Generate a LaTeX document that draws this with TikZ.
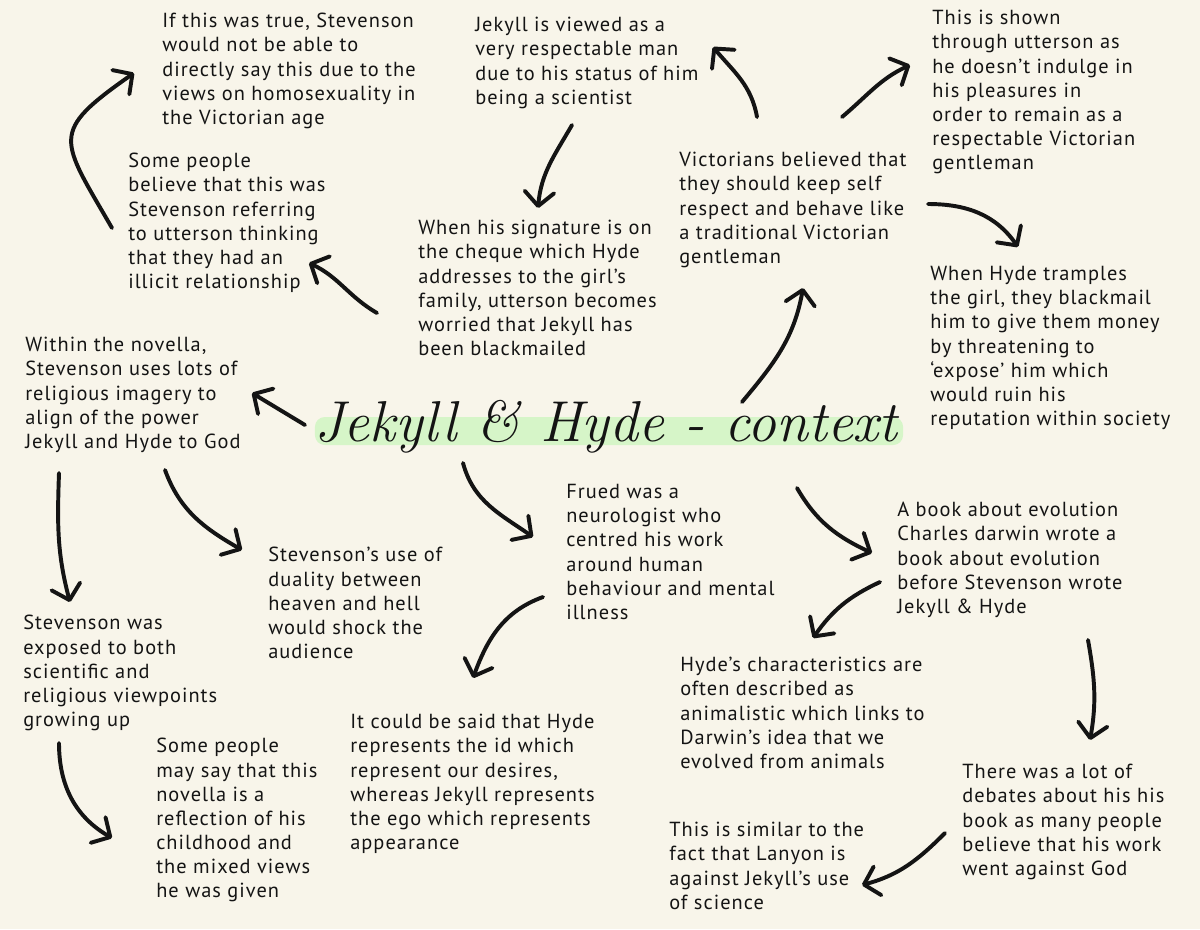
\documentclass[tikz,border=0pt]{standalone}
\usepackage{fontspec}
\newfontfamily\handfont{PT Sans}[LetterSpace=5, Ligatures=TeX]
\usepackage{tikz}
\usetikzlibrary{arrows.meta}

\definecolor{paper}{HTML}{F8F5EA}
\definecolor{marker}{HTML}{D6F5C8}
\definecolor{ink}{HTML}{141414}

\begin{document}
\begin{tikzpicture}[x=0.025cm, y=0.025cm,
	note/.style = {anchor=north west, inner sep=0pt, align=left, text=ink,
		font=\handfont\fontsize{14.5}{17.2}\selectfont},
	arrow/.style = {draw=ink, line width=2.8pt, line cap=round,
		-{Straight Barb[length=10pt, width=21pt, round]}}]

	% paper
	\fill[paper] (0,0) rectangle (1200,-929);
	\useasboundingbox (0,0) rectangle (1200,-929);

	% title with its marker stroke
	\node[fill=marker, rounded corners=7pt, minimum width=14.7cm, minimum height=0.7cm, inner sep=0pt] (bar) at (609,-431) {};
	\node[text=ink, font=\itshape\fontsize{41}{44}\selectfont] (title) at (606,-427) {Jekyll \& Hyde - context};

	% notes
	\node[note] (ifTrue) at (162,-13) {If this was true, Stevenson\\would not be able to\\directly say this due to the\\views on homosexuality in\\the Victorian age};
	\node[note] (somePeople) at (128,-153) {Some people\\believe that this was\\Stevenson referring\\to utterson thinking\\that they had an\\illicit relationship};
	\node[note] (respectable) at (475,-17) {Jekyll is viewed as a\\very respectable man\\due to his status of him\\being a scientist};
	\node[note] (shown) at (932,-10) {This is shown\\through utterson as\\he doesn't indulge in\\his pleasures in\\order to remain as a\\respectable Victorian\\gentleman};
	\node[note] (victorians) at (679,-152) {Victorians believed that\\they should keep self\\respect and behave like\\a traditional Victorian\\gentleman};
	\node[note] (signature) at (418,-220) {When his signature is on\\the cheque which Hyde\\addresses to the girl's\\family, utterson becomes\\worried that Jekyll has\\been blackmailed};
	\node[note] (tramples) at (930,-266) {When Hyde tramples\\the girl, they blackmail\\him to give them money\\by threatening to\\`expose' him which\\would ruin his\\reputation within society};
	\node[note] (religious) at (25,-337) {Within the novella,\\Stevenson uses lots of\\religious imagery to\\align of the power\\Jekyll and Hyde to God};
	\node[note] (frued) at (566,-484) {Frued was a\\neurologist who\\centred his work\\around human\\behaviour and mental\\illness};
	\node[note] (evolution) at (897,-502) {A book about evolution\\Charles darwin wrote a\\book about evolution\\before Stevenson wrote\\Jekyll \& Hyde};
	\node[note] (duality) at (268,-547) {Stevenson's use of\\duality between\\heaven and hell\\would shock the\\audience};
	\node[note] (exposed) at (23,-615) {Stevenson was\\exposed to both\\scientific and\\religious viewpoints\\growing up};
	\node[note] (animalistic) at (680,-657) {Hyde's characteristics are\\often described as\\animalistic which links to\\Darwin's idea that we\\evolved from animals};
	\node[note] (childhood) at (156,-738) {Some people\\may say that this\\novella is a\\reflection of his\\childhood and\\the mixed views\\he was given};
	\node[note] (idEgo) at (350,-714) {It could be said that Hyde\\represents the id which\\represent our desires,\\whereas Jekyll represents\\the ego which represents\\appearance};
	\node[note] (debates) at (962,-764) {There was a lot of\\debates about his his\\book as many people\\believe that his work\\went against God};
	\node[note] (lanyon) at (669,-822) {This is similar to the\\fact that Lanyon is\\against Jekyll's use\\of science};

	% arrow ends
	\coordinate (somePeopleOut) at (112,-228);   \coordinate (ifTrueIn) at (134,-73);
	\coordinate (signatureOut) at (377,-313);    \coordinate (somePeopleIn) at (309,-263);
	\coordinate (respectableOut) at (572,-125);  \coordinate (signatureIn) at (538,-208);
	\coordinate (victoriansOutA) at (757,-117);  \coordinate (respectableIn) at (713,-47);
	\coordinate (victoriansOutB) at (842,-117);  \coordinate (shownIn) at (910,-65);
	\coordinate (victoriansOutC) at (928,-204);  \coordinate (tramplesIn) at (1018,-247);
	\coordinate (titleOutA) at (742,-402);       \coordinate (victoriansIn) at (803,-288);
	\coordinate (titleOutB) at (305,-425);       \coordinate (religiousIn) at (252,-393);
	\coordinate (titleOutC) at (463,-463);       \coordinate (fruedIn) at (533,-537);
	\coordinate (titleOutD) at (797,-488);       \coordinate (evolutionIn) at (872,-553);
	\coordinate (religiousOutA) at (165,-470);   \coordinate (dualityIn) at (242,-550);
	\coordinate (religiousOutB) at (59,-473);    \coordinate (exposedIn) at (70,-602);
	\coordinate (exposedOut) at (59,-743);       \coordinate (childhoodIn) at (112,-838);
	\coordinate (fruedOut) at (543,-597);        \coordinate (idEgoIn) at (473,-678);
	\coordinate (evolutionOutA) at (880,-582);   \coordinate (animalisticIn) at (813,-638);
	\coordinate (evolutionOutB) at (1088,-640);  \coordinate (debatesIn) at (1090,-740);
	\coordinate (debatesOut) at (945,-833);      \coordinate (lanyonIn) at (862,-885);

	% arrows
	\draw[arrow] (somePeopleOut) to[out=120, in=215, looseness=1.7] (ifTrueIn);
	\draw[arrow] (signatureOut) to[out=150, in=-25] (somePeopleIn);
	\draw[arrow] (respectableOut) to[out=240, in=85] (signatureIn);
	\draw[arrow] (victoriansOutA) to[out=100, in=310] (respectableIn);
	\draw[arrow] (victoriansOutB) to[out=40, in=205] (shownIn);
	\draw[arrow] (victoriansOutC) to[out=0, in=125] (tramplesIn);
	\draw[arrow] (titleOutA) to[out=50, in=260] (victoriansIn);
	\draw[arrow] (titleOutB) -- (religiousIn);
	\draw[arrow] (titleOutC) to[out=-75, in=145] (fruedIn);
	\draw[arrow] (titleOutD) to[out=-60, in=155] (evolutionIn);
	\draw[arrow] (religiousOutA) to[out=-70, in=150] (dualityIn);
	\draw[arrow] (religiousOutB) to[out=268, in=105] (exposedIn);
	\draw[arrow] (exposedOut) to[out=-90, in=150] (childhoodIn);
	\draw[arrow] (fruedOut) to[out=200, in=70] (idEgoIn);
	\draw[arrow] (evolutionOutA) to[out=205, in=55] (animalisticIn);
	\draw[arrow] (evolutionOutB) to[out=-80, in=80] (debatesIn);
	\draw[arrow] (debatesOut) to[out=225, in=15] (lanyonIn);
\end{tikzpicture}
\end{document}
